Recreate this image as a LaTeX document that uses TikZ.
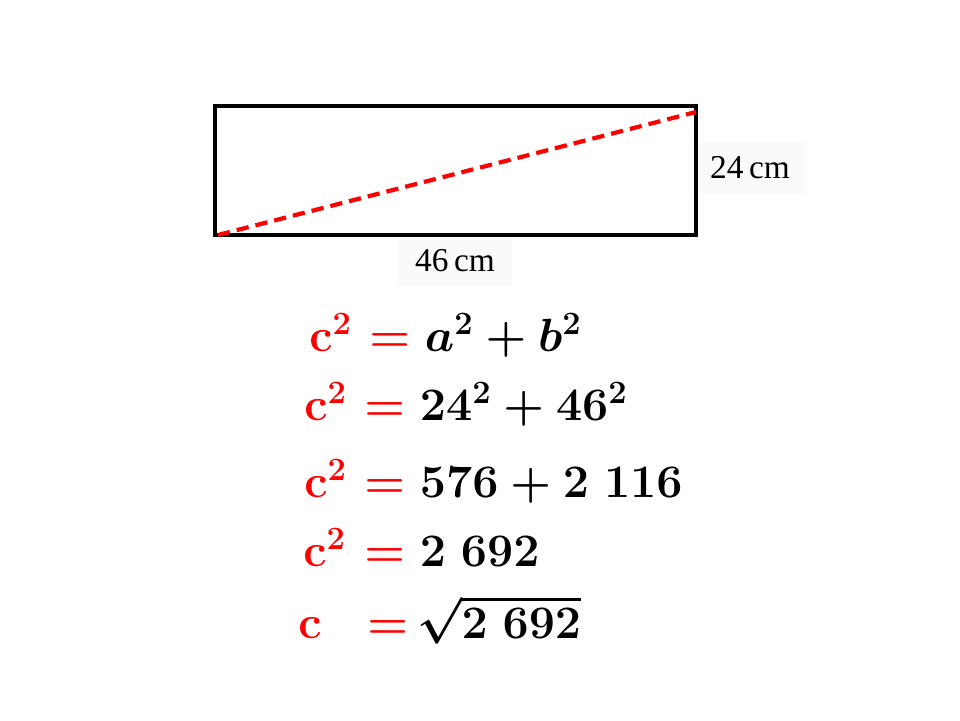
\RequirePackage{fix-cm}
\documentclass[tikz,border=0pt]{standalone}
\usepackage{fontspec}
\newfontfamily\labelfont{Liberation Serif}
\usepackage{xcolor}
\usepackage{tikz}
\usetikzlibrary{positioning}

\begin{document}
\begin{tikzpicture}[
    x=0.02cm,y=-0.02cm,
    side/.style={draw,line width=2.3pt},
    diag/.style={draw=red,line width=2.4pt,dash pattern=on 7pt off 4pt},
    dimlabel/.style={fill=black!2,inner xsep=10pt,inner ysep=8pt,font=\labelfont\fontsize{19}{21}\selectfont},
    eqn/.style={anchor=base west,inner sep=0pt,font=\fontsize{26.5}{32}\selectfont\boldmath}
  ]
    \useasboundingbox (0,0) rectangle (960,720);
    % rectangle and its diagonal
    \coordinate (sw) at (215,235);
    \coordinate (ne) at (696,106);
    \coordinate (dstart) at (218,235);
    \coordinate (dend) at (696,112);
    \node[dimlabel] (len) at (455,261) {46\,cm};
    \node[dimlabel] (wid) at (750,168) {24\,cm};
    \draw[side] (sw) rectangle (ne);
    \draw[diag] (dstart) -- (dend);
    % working
    \node[eqn] (lhs1) at (309,351) {$\color{red}\mathbf{c}^2$};
    \node[eqn] (rhs1) at (369,351) {${\color{red}=}\;a^2+b^2$};
    \node[eqn] (lhs2) at (304,420) {$\color{red}\mathbf{c}^2$};
    \node[eqn] (rhs2) at (364,420) {${\color{red}=}\;24^2+46^2$};
    \node[eqn] (lhs3) at (304,497) {$\color{red}\mathbf{c}^2$};
    \node[eqn] (rhs3) at (364,497) {${\color{red}=}\;576+2\;116$};
    \node[eqn] (lhs4) at (303,566) {$\color{red}\mathbf{c}^2$};
    \node[eqn] (rhs4) at (364,566) {${\color{red}=}\;2\;692$};
    \node[eqn] (lhs5) at (298,638) {$\color{red}\mathbf{c}$};
    \node[eqn] (rhs5) at (367,638) {${\color{red}=}\,\sqrt{2\;692}$};
  \end{tikzpicture}
\end{document}
